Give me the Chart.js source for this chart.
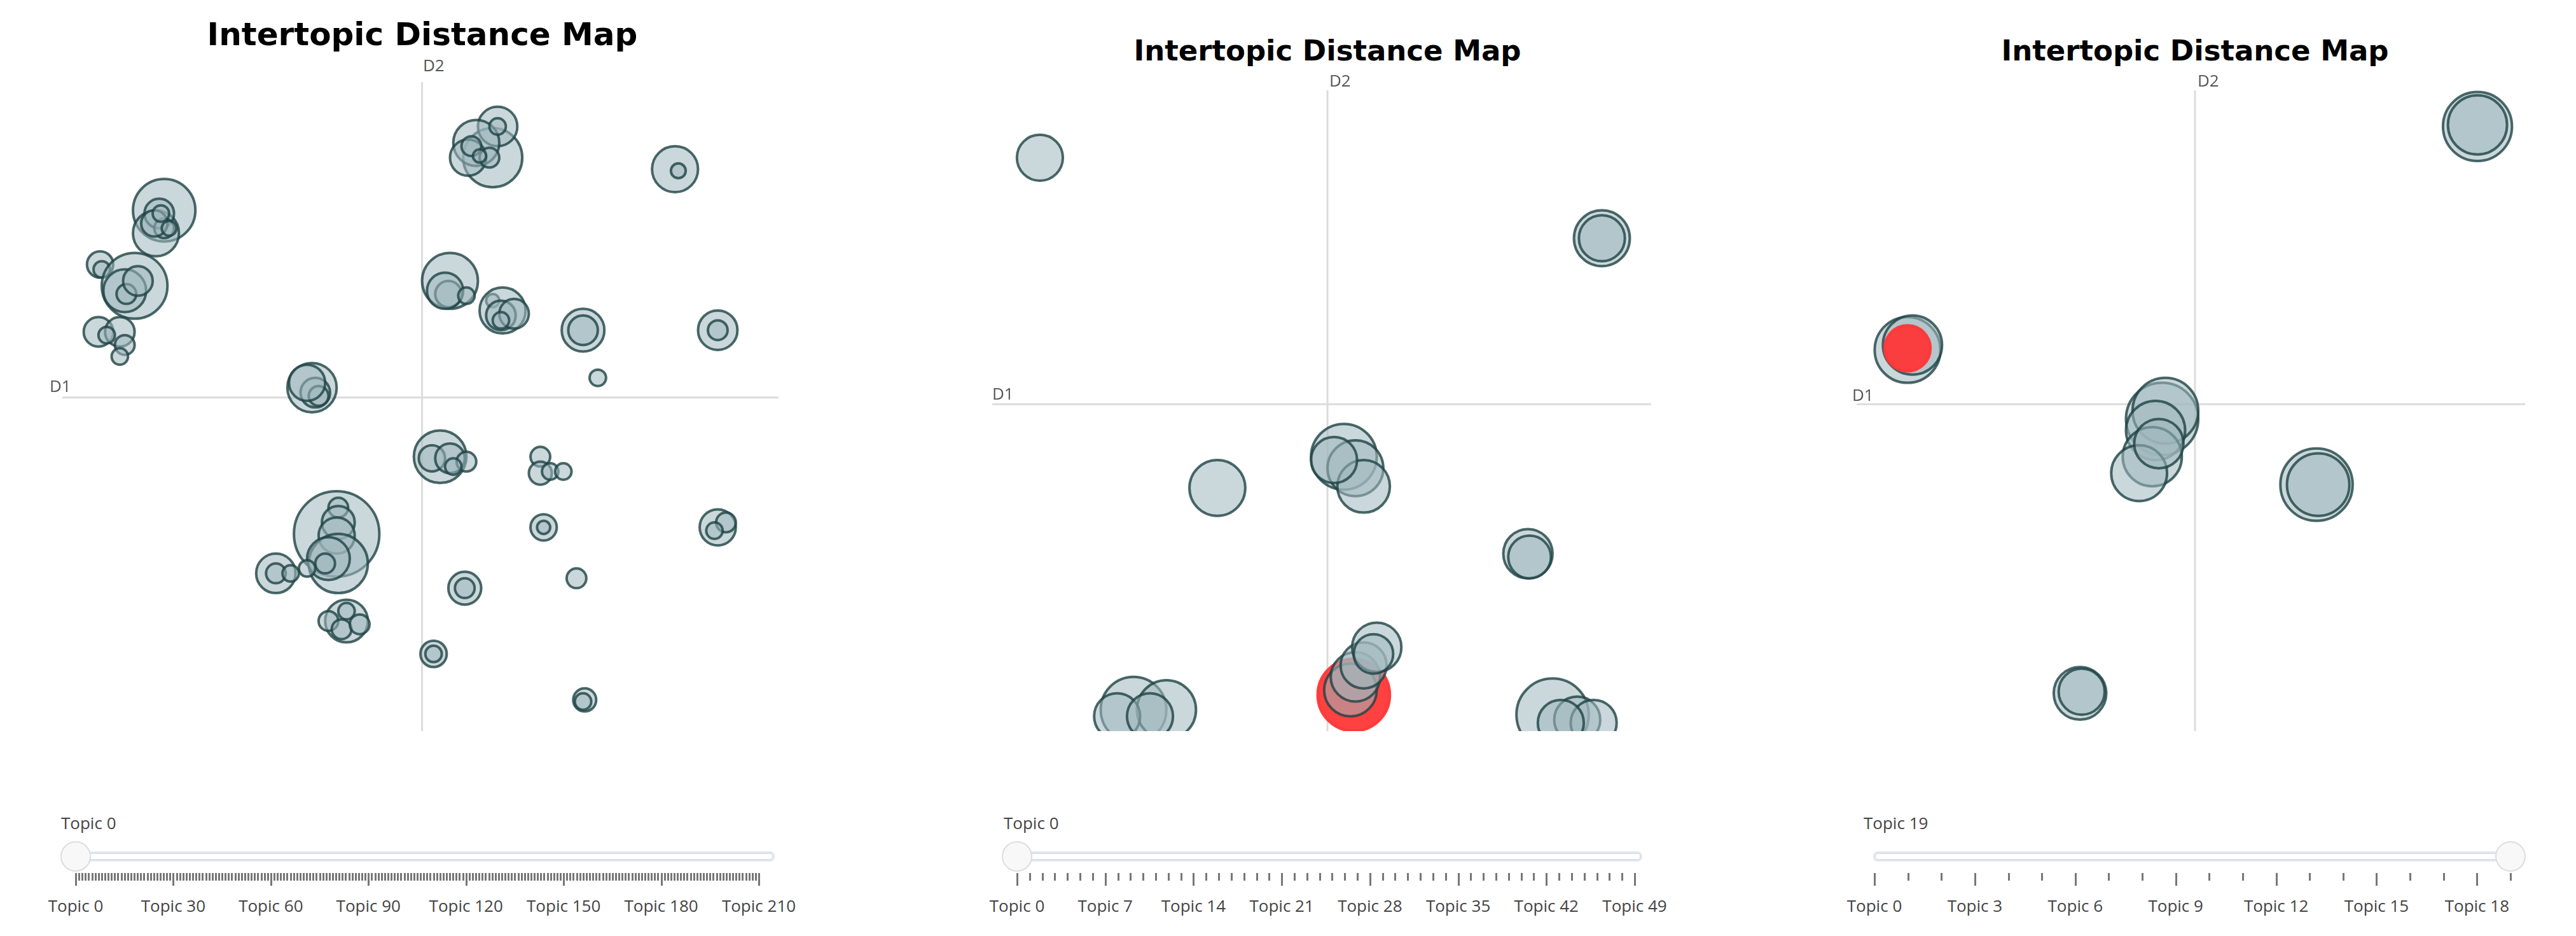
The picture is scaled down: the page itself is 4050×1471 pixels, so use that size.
<!DOCTYPE html>
<html><head><meta charset="utf-8">
<script src="https://cdn.jsdelivr.net/npm/chart.js@4/dist/chart.umd.min.js"></script>
<style>
body{margin:0;background:#fff;width:4050px;height:1471px;position:relative;overflow:hidden;font-family:"DejaVu Sans",sans-serif}
.t{position:absolute;font-weight:bold;color:#000;transform:translate(-50%,-50%);white-space:nowrap}
.ax{position:absolute;font-size:26px;color:#555;font-family:"Open Sans",sans-serif}
.sl{position:absolute;font-family:"Open Sans",sans-serif;color:#444}
</style></head><body>
<script>
// ---- data (D1, D2, size) ----
const p1X=[43,46,33,28,41,46,30,35,154,156,-157,-162,-160,-157,-163,-154,-159,-196,-195,-175,-181,-180,-173,-197,-184,-192,-181,-184,-67,-65,-63,-70,17,16,14,27,43,49,48,56,48,98,98,180,180,107,11,6,17,27,19,72,72,78,86,74,74,180,185,178,-52,-51,-51,-52,-51,-57,-59,-70,-89,-89,-80,94,26,26,-46,-57,-46,-49,-38,7,7,99,98];
const p1Y=[146,165,155,146,146,165,153,147,139,138,114,100,112,103,106,103,112,81,78,68,65,63,71,40,40,38,32,25,6,3,1,9,71,63,65,62,59,53,50,51,47,41,41,41,41,12,-36,-37,-37,-39,-42,-36,-46,-45,-45,-79,-79,-79,-76,-81,-83,-67,-76,-84,-101,-98,-101,-104,-107,-107,-107,-110,-116,-116,-136,-136,-130,-141,-138,-156,-156,-184,-185];
const p1S=[18,12,14,11,6,5,6,4,14,4.5,19,14,9,6,8,4.5,5,8,5,20,13,6,9,9,9,5,6,5,15,9,6,11,17,8,11,5,4,14,9,9,5,13,9,12,6,5,16,8,9,6,5,6,7,5,5,8,4,11,6,5,26,6,10,11,18,13,6,5,12,6,5,6,10,6,13,6,5,6,6,8,5,7,5];
const p2X=[-175,167,167,-67,10,17,22,4,122,123,16,14,17,22,30,28,-118,-98,-128,-108,137,152,162,142];
const p2Y=[150,101,101,-51,-32,-39,-50,-34,-91,-93,-177,-174,-166,-159,-148,-152,-186,-186,-190,-190,-189,-192,-194,-194];
const p2S=[14,17,14,17,20,17,16,14,15,13,22,16,15,14,15,12,20,18,14,14,22,14,14,14];
const p2Sel=[10];
const p3X=[172,172,-175,-172,-175,-20,-18,-24,-26,-34,-22,74,75,-70,-69];
const p3Y=[169,170,33,36,34,-9,-4,-16,-32,-42,-24,-49,-49,-176,-175];
const p3S=[21,18,20,18,14,22,20,18,18,17,15,22,19,16,14];
const p3Sel=[4];
const slider1Ticks=[0,30,60,90,120,150,180,210], slider1N=211, slider1Val=0;
const slider2Ticks=[0,7,14,21,28,35,42,49], slider2N=50, slider2Val=0;
const slider3Ticks=[0,3,6,9,12,15,18], slider3N=20, slider3Val=19;

const K=2.583;
function el(tag,cls,style,text){const e=document.createElement(tag);if(cls)e.className=cls;Object.assign(e.style,style);if(text!==undefined)e.textContent=text;document.body.appendChild(e);return e;}

const crossPlugin={id:'cross',beforeDatasetsDraw(c){const {ctx,chartArea:a,scales:{x,y}}=c;ctx.save();ctx.strokeStyle='#dcdcdc';ctx.lineWidth=3;
 const px=x.getPixelForValue(0),py=y.getPixelForValue(0);ctx.beginPath();ctx.moveTo(px,a.top);ctx.lineTo(px,a.bottom);ctx.moveTo(a.left,py);ctx.lineTo(a.right,py);ctx.stroke();ctx.restore();}};

function titleAt(x,y,size){el('div','t',{left:x+'px',top:y+'px',fontSize:size+'px'},'Intertopic Distance Map');}

function slider(o){
 el('div','sl',{left:o.lab+'px',top:(1292-17)+'px',fontSize:'26px'},'Topic '+o.val);
 el('div','',{position:'absolute',left:o.tl+'px',top:'1338px',width:(o.tr-o.tl)+'px',height:'12px',border:'2px solid #e3eaf0',background:'#fff',borderRadius:'7px',boxShadow:'inset 0 0 0 2px #d7e0e8'});
 const step=(o.x1-o.x0)/(o.n-1);
 for(let i=0;i<o.n;i++){const maj=o.ticks.includes(i);
  el('div','',{position:'absolute',left:(o.x0+i*step-1)+'px',top:'1372px',width:'3px',height:(maj?20:12)+'px',background:'#777'});}
 o.ticks.forEach(t=>{el('div','sl',{left:(o.x0+t*step)+'px',top:'1423px',fontSize:'26px',transform:'translate(-50%,-50%)',whiteSpace:'nowrap'},'Topic '+t);});
 const hx=o.x0+o.val*step;
 el('div','',{position:'absolute',left:(hx-24)+'px',top:(1346-24)+'px',width:'44px',height:'44px',borderRadius:'50%',background:'#f8f8f8',border:'2px solid #ddd'});
}

function makePanel(X,Y,S,sel,l,r,t,b,cx,cy){
 const L=l*K,T=t*K,W=Math.round((r-l)*K),H=Math.round((b-t)*K);
 const c=document.createElement('canvas');c.width=W;c.height=H;c.style.position='absolute';c.style.left=L+'px';c.style.top=T+'px';c.style.width=W+'px';c.style.height=H+'px';document.body.appendChild(c);
 const pts=X.map((v,i)=>({x:v,y:Y[i],r:S[i]*K}));
 const bg=pts.map((p,i)=>sel.includes(i)?'rgba(255,55,55,0.95)':'rgba(160,184,190,0.55)');
 const bd=pts.map((p,i)=>sel.includes(i)?'rgba(255,55,55,0.95)':'rgba(30,66,68,0.8)');
 new Chart(c,{type:'bubble',data:{datasets:[{data:pts,backgroundColor:bg,borderColor:bd,borderWidth:4,clip:0}]},
  options:{responsive:false,animation:false,events:[],layout:{padding:0,autoPadding:false},devicePixelRatio:1,
   plugins:{legend:{display:false},tooltip:{enabled:false}},
   scales:{x:{type:'linear',min:l-cx,max:r-cx,display:false},y:{type:'linear',min:cy-b,max:cy-t,display:false}}},
  plugins:[crossPlugin]});
}
makePanel(p1X,p1Y,p1S,[],38,474,50,445,257,242);
makePanel(p2X,p2Y,p2S,p2Sel,604,1005,55,445,808,246);
makePanel(p3X,p3Y,p3S,p3Sel,1130,1537,55,445,1336,246);

titleAt(664,54,50);titleAt(2087,79,45);titleAt(3451,79,45);
el('div','ax',{left:'665px',top:'84px'},'D2');el('div','ax',{left:'78px',top:'588px'},'D1');
el('div','ax',{left:'2090px',top:'108px'},'D2');el('div','ax',{left:'1560px',top:'600px'},'D1');
el('div','ax',{left:'3455px',top:'108px'},'D2');el('div','ax',{left:'2912px',top:'602px'},'D1');

slider({lab:96,val:slider1Val,tl:103,tr:1214,x0:119,x1:1193,n:slider1N,ticks:slider1Ticks});
slider({lab:1578,val:slider2Val,tl:1581,tr:2578,x0:1599,x1:2570,n:slider2N,ticks:slider2Ticks});
slider({lab:2930,val:slider3Val,tl:2945,tr:3955,x0:2947,x1:3947,n:slider3N,ticks:slider3Ticks});
</script>
</body></html>
